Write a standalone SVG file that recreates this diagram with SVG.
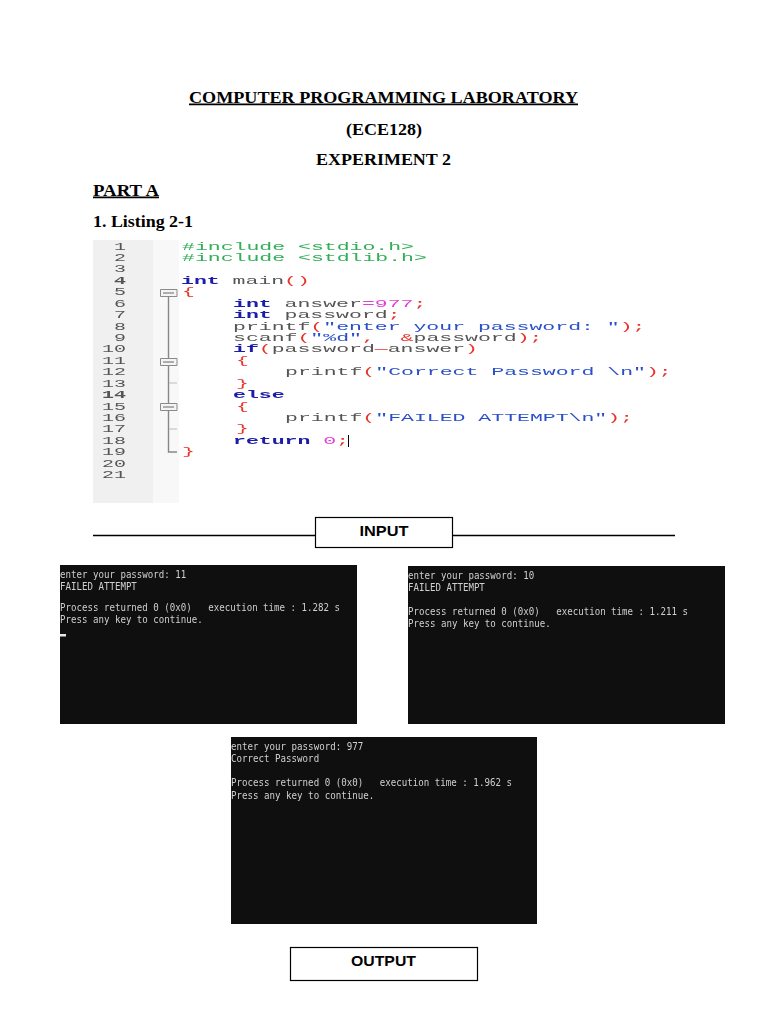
<svg xmlns="http://www.w3.org/2000/svg" width="768" height="1024" viewBox="0 0 768 1024">
<style>
.t{font-family:"Liberation Serif",serif;font-weight:bold;font-size:17.500px;fill:#000}
.u{text-decoration:underline}
.l{font-family:"Liberation Sans",Arial,sans-serif;font-weight:bold;font-size:14px;fill:#000;text-anchor:middle}
.box{fill:#fff;stroke:#000;stroke-width:1.2}
.c{font-family:"Liberation Mono",monospace;font-size:10px;fill:#555;white-space:pre}
.n{font-family:"Liberation Mono",monospace;font-size:10px;fill:#555;text-anchor:end}
.g{fill:#2fae55}.k{fill:#1a1aa8;font-weight:bold}.r{fill:#e8322a}.s{fill:#2a4fc8}.m{fill:#e040d8}
.con{font-family:"DejaVu Sans Mono",monospace;font-size:10px;fill:#cfcfcf;white-space:pre}
.scr{fill:#0f0f0f}
.fold{fill:#f4f4f4;stroke:#8a8a8a;stroke-width:1}
.fl{stroke:#888;stroke-width:1.4;fill:none}
.tick{stroke:#bbb;stroke-width:1;fill:none}
</style>
<defs><filter id="soft" x="-2%" y="-2%" width="104%" height="104%"><feGaussianBlur stdDeviation="0.3"/></filter></defs>
<rect width="768" height="1024" fill="#fff"/>
<g id="headings">
<text class="t u" x="189" y="102.500" textLength="389" lengthAdjust="spacingAndGlyphs">COMPUTER PROGRAMMING LABORATORY</text>
<text class="t" x="346" y="134.500" textLength="76" lengthAdjust="spacingAndGlyphs">(ECE128)</text>
<text class="t" x="316" y="164.500" textLength="135" lengthAdjust="spacingAndGlyphs">EXPERIMENT 2</text>
<text class="t u" x="93" y="195.500" textLength="66" lengthAdjust="spacingAndGlyphs">PART A</text>
<text class="t" x="93" y="226.500" textLength="100" lengthAdjust="spacingAndGlyphs">1. Listing 2-1</text>
</g>
<g id="listing">
<rect x="93" y="240" width="60" height="263" fill="#f0f0f0"/>
<rect x="153" y="240" width="26" height="263" fill="#f8f8f8"/>
<path class="fl" d="M168.500 297V452H177"/>
<path class="tick" d="M169 383H177M169 429H177"/>
<path class="fold" d="M160.500 289.500H177V296.500H160.500ZM160.500 358.500H177V365.500H160.500ZM160.500 403.500H177V410.500H160.500Z"/>
<path d="M163 293H174M163 362H174M163 407H174" stroke="#666" stroke-width="1"/>
<g id="line-numbers" filter="url(#soft)">
<text class="n" transform="translate(126 249.500) scale(2 1)">1</text>
<text class="n" transform="translate(126 261) scale(2 1)">2</text>
<text class="n" transform="translate(126 272.400) scale(2 1)">3</text>
<text class="n" style="font-weight:bold" transform="translate(126 283.800) scale(2 1)">4</text>
<text class="n" transform="translate(126 295.200) scale(2 1)">5</text>
<text class="n" transform="translate(126 306.700) scale(2 1)">6</text>
<text class="n" transform="translate(126 318.100) scale(2 1)">7</text>
<text class="n" transform="translate(126 329.500) scale(2 1)">8</text>
<text class="n" transform="translate(126 341) scale(2 1)">9</text>
<text class="n" transform="translate(126 352.400) scale(2 1)">10</text>
<text class="n" transform="translate(126 363.800) scale(2 1)">11</text>
<text class="n" transform="translate(126 375.200) scale(2 1)">12</text>
<text class="n" transform="translate(126 386.700) scale(2 1)">13</text>
<text class="n" style="font-weight:bold" transform="translate(126 398.100) scale(2 1)">14</text>
<text class="n" transform="translate(126 409.500) scale(2 1)">15</text>
<text class="n" transform="translate(126 421) scale(2 1)">16</text>
<text class="n" transform="translate(126 432.400) scale(2 1)">17</text>
<text class="n" transform="translate(126 443.800) scale(2 1)">18</text>
<text class="n" transform="translate(126 455.200) scale(2 1)">19</text>
<text class="n" transform="translate(126 466.700) scale(2 1)">20</text>
<text class="n" transform="translate(126 478.100) scale(2 1)">21</text>
</g>
<g id="code" filter="url(#soft)">
<text class="c g" transform="translate(182 249.500) scale(2.15 1)">#include &lt;stdio.h&gt;</text>
<text class="c g" transform="translate(182 261) scale(2.15 1)">#include &lt;stdlib.h&gt;</text>
<text class="c" transform="translate(181 283.800) scale(2.15 1)"><tspan class="k">int</tspan> main<tspan class="r">()</tspan></text>
<text class="c r" transform="translate(182 295.200) scale(2.15 1)">{</text>
<text class="c" transform="translate(233 306.700) scale(2.15 1)"><tspan class="k">int</tspan> answer<tspan class="m">=977</tspan><tspan class="r">;</tspan></text>
<text class="c" transform="translate(233 318.100) scale(2.15 1)"><tspan class="k">int</tspan> password<tspan class="r">;</tspan></text>
<text class="c" transform="translate(233 329.500) scale(2.15 1)">printf<tspan class="r">(</tspan><tspan class="s">"enter your password: "</tspan><tspan class="r">);</tspan></text>
<text class="c" transform="translate(233 341) scale(2.15 1)">scanf<tspan class="r">(</tspan><tspan class="s">"%d"</tspan><tspan class="r">,</tspan>  <tspan class="r">&amp;</tspan>password<tspan class="r">);</tspan></text>
<text class="c" transform="translate(233 352.400) scale(2.15 1)"><tspan class="k">if</tspan><tspan class="r">(</tspan>password<tspan class="r">—</tspan>answer<tspan class="r">)</tspan></text>
<text class="c r" transform="translate(236 363.800) scale(2.15 1)">{</text>
<text class="c" transform="translate(285 375.200) scale(2.15 1)">printf<tspan class="r">(</tspan><tspan class="s">"Correct Password \n"</tspan><tspan class="r">);</tspan></text>
<text class="c r" transform="translate(236 386.700) scale(2.15 1)">}</text>
<text class="c k" transform="translate(233 398.100) scale(2.15 1)">else</text>
<text class="c r" transform="translate(236 409.500) scale(2.15 1)">{</text>
<text class="c" transform="translate(285 421) scale(2.15 1)">printf<tspan class="r">(</tspan><tspan class="s">"FAILED ATTEMPT\n"</tspan><tspan class="r">);</tspan></text>
<text class="c r" transform="translate(236 432.400) scale(2.15 1)">}</text>
<text class="c" transform="translate(233 443.800) scale(2.15 1)"><tspan class="k">return</tspan> <tspan class="m">0</tspan><tspan class="r">;</tspan></text>
<text class="c r" transform="translate(182 455.200) scale(2.15 1)">}</text>
</g>
<path d="M348.500 435V447" stroke="#000" stroke-width="1"/>
</g>
<g id="connectors">
<path d="M93 535.500H315M453 535.500H675" stroke="#000" stroke-width="1.500" fill="none"/>
</g>
<g id="input-label">
<rect class="box" x="315.500" y="517.500" width="137" height="30"/>
<text class="l" x="384" y="536" textLength="49" lengthAdjust="spacingAndGlyphs">INPUT</text>
</g>
<g id="console-1">
<rect class="scr" x="60" y="565" width="297" height="159"/>
<g filter="url(#soft)">
<text class="con" transform="translate(60 577.500) scale(.913 1)">enter your password: 11</text>
<text class="con" transform="translate(60 589.500) scale(.913 1)">FAILED ATTEMPT</text>
<text class="con" transform="translate(60 611) scale(.913 1)">Process returned 0 (0x0)   execution time : 1.282 s</text>
<text class="con" transform="translate(60 622.500) scale(.913 1)">Press any key to continue.</text>
</g>
<rect x="60" y="634" width="6" height="2.500" fill="#e8e8e8"/>
</g>
<g id="console-2">
<rect class="scr" x="408" y="566" width="317" height="158"/>
<g filter="url(#soft)">
<text class="con" transform="translate(408 578.500) scale(.913 1)">enter your password: 10</text>
<text class="con" transform="translate(408 590.500) scale(.913 1)">FAILED ATTEMPT</text>
<text class="con" transform="translate(408 614.500) scale(.913 1)">Process returned 0 (0x0)   execution time : 1.211 s</text>
<text class="con" transform="translate(408 626.500) scale(.913 1)">Press any key to continue.</text>
</g>
</g>
<g id="console-3">
<rect class="scr" x="231" y="737" width="306" height="187"/>
<g filter="url(#soft)">
<text class="con" transform="translate(231 749.500) scale(.916 1)">enter your password: 977</text>
<text class="con" transform="translate(231 761.500) scale(.916 1)">Correct Password</text>
<text class="con" transform="translate(231 786) scale(.916 1)">Process returned 0 (0x0)   execution time : 1.962 s</text>
<text class="con" transform="translate(231 798.500) scale(.916 1)">Press any key to continue.</text>
</g>
</g>
<g id="output-label">
<rect class="box" x="290.500" y="947.500" width="187" height="33"/>
<text class="l" x="383.500" y="966" textLength="65" lengthAdjust="spacingAndGlyphs">OUTPUT</text>
</g>
</svg>
